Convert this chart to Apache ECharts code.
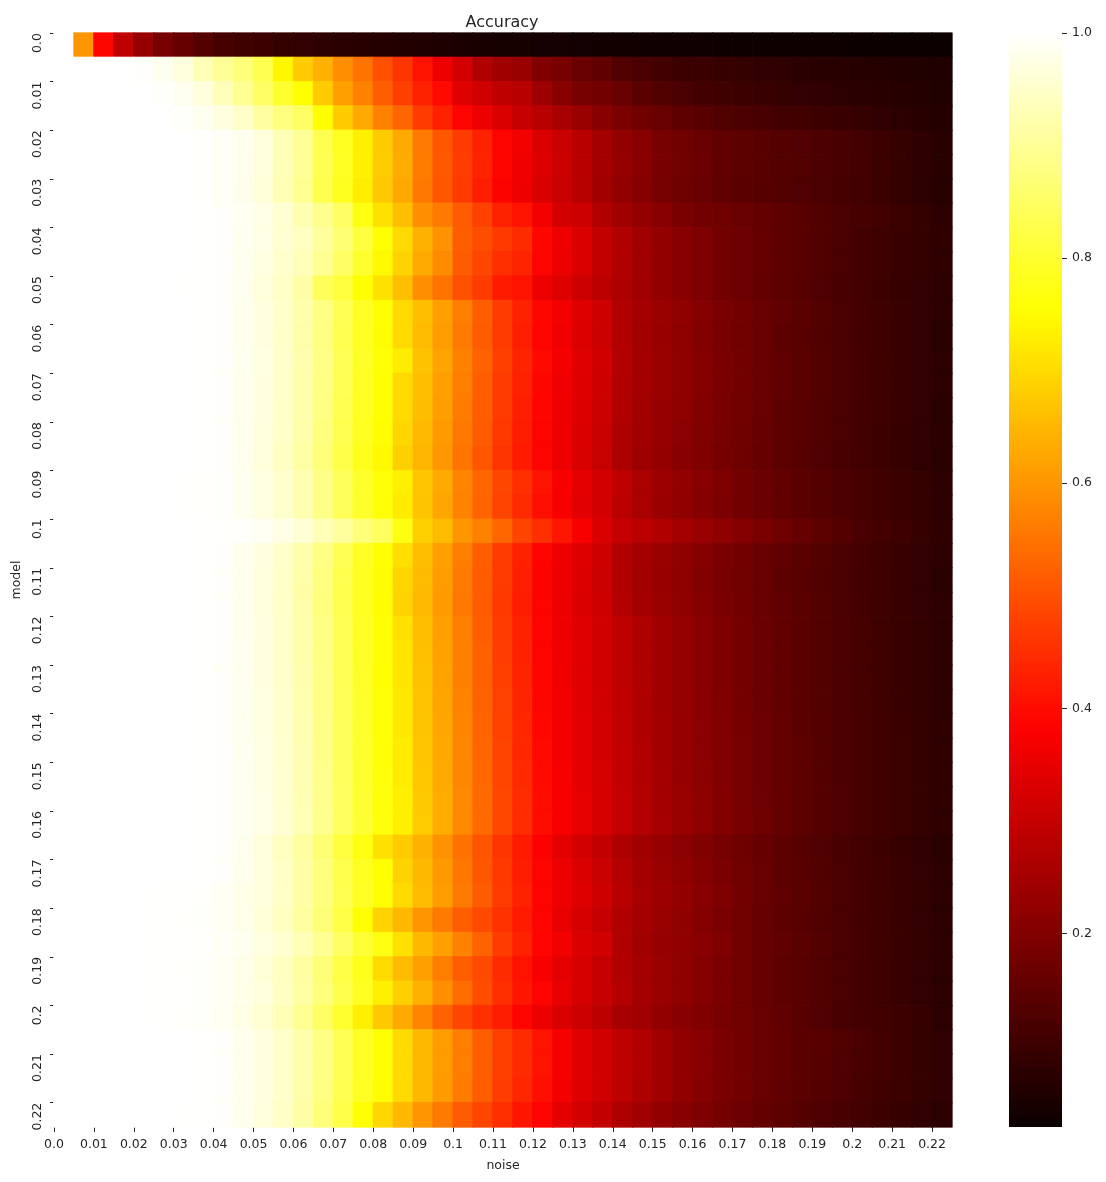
<!DOCTYPE html>
<html>
<head>
<meta charset="utf-8">
<title>Accuracy</title>
<script src="https://cdn.jsdelivr.net/npm/echarts@6/dist/echarts.min.js"></script>
<style>
html, body { margin: 0; padding: 0; background: #fff; }
#chart { width: 1106px; height: 1182px; }
</style>
</head>
<body>
<div id="chart"></div>
<script>
// cell steps on both axes, 0.005 apart
const noise = ['0.0','0.005','0.01','0.015','0.02','0.025','0.03','0.035','0.04','0.045','0.05','0.055','0.06','0.065','0.07','0.075','0.08','0.085','0.09','0.095','0.1','0.105','0.11','0.115','0.12','0.125','0.13','0.135','0.14','0.145','0.15','0.155','0.16','0.165','0.17','0.175','0.18','0.185','0.19','0.195','0.2','0.205','0.21','0.215','0.22'];
const model = ['0.0','0.005','0.01','0.015','0.02','0.025','0.03','0.035','0.04','0.045','0.05','0.055','0.06','0.065','0.07','0.075','0.08','0.085','0.09','0.095','0.1','0.105','0.11','0.115','0.12','0.125','0.13','0.135','0.14','0.145','0.15','0.155','0.16','0.165','0.17','0.175','0.18','0.185','0.19','0.195','0.2','0.205','0.21','0.215','0.22'];
// only every second step gets a tick
const tickLabels = ['0.0','0.01','0.02','0.03','0.04','0.05','0.06','0.07','0.08','0.09','0.1','0.11','0.12','0.13','0.14','0.15','0.16','0.17','0.18','0.19','0.2','0.21','0.22'];
const colorbarTicks = [0.2, 0.4, 0.6, 0.8, 1.0];

// accuracy, one line per model row
const accuracy = [
[1,.60,.39,.29,.23,.185,.16,.135,.115,.105,.10,.09,.085,.08,.075,.07,.065,.062,.058,.055,.052,.049,.046,.044,.042,.041,.04,.039,.038,.037,.036,.035,.035,.034,.034,.033,.033,.033,.032,.032,.031,.031,.03,.03,.03],
[1,1,1,1,.995,.985,.965,.93,.90,.87,.83,.74,.68,.64,.59,.55,.50,.46,.41,.355,.32,.27,.245,.235,.198,.185,.165,.152,.13,.12,.11,.10,.097,.092,.088,.083,.08,.075,.072,.07,.067,.064,.062,.06,.058],
[1,1,1,1,1,.995,.985,.965,.935,.895,.85,.80,.755,.68,.615,.57,.52,.475,.43,.395,.337,.315,.29,.28,.24,.21,.185,.18,.165,.145,.13,.12,.11,.105,.10,.095,.09,.085,.082,.078,.075,.072,.068,.064,.06],
[1,1,1,1,1,1,.995,.985,.97,.947,.91,.876,.85,.755,.68,.63,.57,.53,.47,.43,.385,.355,.33,.30,.28,.255,.235,.21,.19,.175,.165,.15,.14,.13,.125,.118,.11,.105,.10,.095,.09,.083,.078,.07,.065],
[1,1,1,1,1,1,1,.996,.992,.983,.968,.93,.90,.83,.785,.73,.68,.63,.56,.51,.47,.43,.385,.365,.33,.305,.28,.25,.225,.21,.185,.175,.165,.152,.146,.14,.134,.129,.125,.118,.11,.10,.09,.08,.07],
[1,1,1,1,1,1,1,.996,.992,.983,.966,.93,.898,.832,.787,.732,.677,.632,.563,.513,.472,.433,.388,.362,.333,.308,.282,.252,.228,.212,.188,.177,.166,.154,.147,.141,.135,.13,.124,.117,.109,.099,.089,.079,.07],
[1,1,1,1,1,1,1,.996,.992,.982,.964,.928,.895,.83,.783,.728,.673,.628,.558,.508,.468,.428,.383,.36,.328,.303,.278,.248,.224,.208,.186,.174,.164,.152,.145,.139,.133,.128,.122,.115,.108,.098,.088,.078,.069],
[1,1,1,1,1,1,1,.998,.994,.988,.975,.955,.925,.89,.85,.77,.71,.66,.59,.56,.515,.478,.43,.41,.365,.32,.31,.27,.245,.225,.21,.19,.18,.172,.165,.158,.15,.14,.13,.122,.115,.108,.098,.088,.078],
[1,1,1,1,1,1,1,.999,.995,.985,.975,.955,.94,.905,.865,.815,.755,.70,.64,.595,.52,.495,.465,.445,.39,.36,.33,.295,.27,.245,.225,.21,.195,.18,.17,.16,.15,.14,.13,.12,.11,.102,.095,.088,.08],
[1,1,1,1,1,1,1,.999,.995,.985,.972,.952,.932,.895,.85,.80,.745,.69,.63,.585,.515,.485,.45,.435,.385,.355,.33,.295,.27,.245,.225,.21,.195,.18,.17,.16,.15,.14,.13,.12,.11,.102,.095,.088,.08],
[1,1,1,1,1,1,.999,.998,.994,.985,.965,.945,.915,.84,.815,.755,.71,.66,.59,.55,.50,.47,.42,.41,.36,.335,.31,.285,.265,.245,.225,.21,.195,.18,.17,.158,.148,.138,.128,.118,.11,.10,.092,.085,.078],
[1,1,1,1,1,1,1,.998,.994,.984,.97,.95,.92,.88,.835,.79,.755,.70,.66,.615,.565,.52,.47,.43,.39,.365,.335,.31,.27,.25,.235,.22,.205,.19,.178,.165,.152,.142,.132,.122,.112,.103,.095,.086,.076],
[1,1,1,1,1,1,1,.998,.994,.984,.97,.948,.918,.878,.833,.788,.753,.70,.655,.61,.56,.517,.468,.428,.388,.362,.333,.308,.268,.248,.233,.218,.203,.188,.176,.163,.15,.14,.13,.12,.11,.102,.094,.085,.075],
[1,1,1,1,1,1,1,.998,.995,.986,.972,.95,.922,.882,.837,.792,.758,.727,.665,.62,.57,.525,.475,.435,.395,.367,.337,.312,.272,.25,.235,.22,.205,.19,.178,.165,.152,.142,.132,.122,.112,.104,.095,.086,.076],
[1,1,1,1,1,1,1,.998,.994,.984,.97,.95,.92,.88,.835,.79,.755,.70,.66,.615,.565,.52,.47,.43,.39,.362,.335,.31,.27,.25,.235,.22,.205,.19,.178,.165,.152,.142,.132,.122,.112,.103,.095,.086,.076],
[1,1,1,1,1,1,1,.998,.994,.984,.97,.948,.92,.878,.832,.788,.755,.70,.658,.612,.562,.518,.468,.428,.388,.36,.333,.308,.268,.248,.232,.218,.203,.188,.176,.163,.15,.14,.13,.12,.11,.102,.094,.085,.075],
[1,1,1,1,1,1,1,.998,.994,.983,.968,.946,.917,.875,.83,.785,.752,.695,.652,.608,.558,.515,.465,.425,.385,.358,.33,.305,.265,.245,.23,.215,.2,.186,.174,.162,.15,.14,.13,.12,.11,.101,.093,.084,.074],
[1,1,1,1,1,1,1,.998,.994,.983,.966,.943,.913,.87,.825,.78,.748,.685,.648,.603,.553,.51,.46,.42,.385,.355,.327,.302,.262,.242,.227,.212,.198,.184,.172,.16,.148,.138,.128,.118,.108,.1,.092,.083,.073],
[1,1,1,1,1,1,.999,.997,.995,.986,.972,.953,.925,.885,.84,.795,.76,.73,.67,.63,.575,.53,.485,.45,.41,.375,.345,.32,.29,.26,.24,.225,.21,.195,.18,.168,.155,.145,.135,.125,.115,.105,.097,.088,.078],
[1,1,1,1,1,1,.999,.997,.995,.986,.972,.953,.925,.885,.84,.795,.76,.725,.668,.625,.572,.528,.48,.445,.405,.372,.342,.318,.285,.258,.238,.223,.208,.193,.18,.168,.155,.145,.135,.125,.115,.105,.097,.088,.078],
[1,1,1,1,1,1,1,.999,.998,.996,.99,.975,.96,.93,.905,.87,.845,.77,.685,.655,.60,.57,.53,.482,.45,.415,.375,.33,.30,.285,.27,.25,.235,.22,.205,.19,.175,.16,.148,.135,.122,.112,.103,.092,.08],
[1,1,1,1,1,1,1,.998,.994,.984,.97,.95,.92,.88,.835,.79,.755,.705,.66,.615,.565,.52,.47,.43,.385,.36,.335,.31,.27,.25,.235,.22,.205,.19,.178,.165,.152,.142,.132,.122,.112,.103,.095,.086,.076],
[1,1,1,1,1,1,1,.998,.994,.984,.968,.947,.917,.876,.83,.785,.753,.695,.655,.61,.56,.517,.468,.428,.383,.358,.333,.308,.268,.248,.233,.218,.203,.188,.176,.163,.15,.14,.13,.12,.11,.102,.094,.085,.075],
[1,1,1,1,1,1,1,.998,.994,.984,.968,.946,.916,.875,.83,.785,.752,.69,.652,.608,.558,.515,.465,.425,.385,.357,.33,.31,.272,.25,.235,.22,.205,.19,.178,.165,.152,.142,.132,.122,.112,.103,.095,.086,.076],
[1,1,1,1,1,1,1,.998,.994,.984,.97,.95,.92,.88,.835,.79,.755,.71,.66,.615,.565,.52,.47,.43,.385,.36,.337,.315,.29,.265,.245,.228,.212,.197,.182,.168,.155,.144,.133,.123,.113,.104,.096,.087,.078],
[1,1,1,1,1,1,1,.998,.994,.985,.97,.95,.921,.881,.836,.792,.756,.715,.662,.617,.567,.522,.472,.432,.387,.362,.338,.316,.29,.265,.245,.228,.212,.197,.182,.168,.155,.144,.133,.123,.113,.104,.096,.087,.078],
[1,1,1,1,1,1,1,.998,.994,.985,.97,.951,.922,.882,.837,.793,.757,.716,.664,.619,.569,.524,.474,.434,.388,.363,.338,.316,.291,.265,.245,.228,.212,.197,.182,.168,.155,.144,.133,.123,.113,.104,.096,.087,.078],
[1,1,1,1,1,1,1,.998,.994,.985,.971,.952,.923,.883,.838,.795,.758,.72,.666,.622,.572,.526,.476,.436,.39,.365,.34,.317,.292,.266,.246,.229,.213,.198,.183,.168,.155,.144,.133,.123,.113,.104,.096,.087,.078],
[1,1,1,1,1,1,1,.998,.994,.986,.972,.953,.924,.885,.84,.797,.759,.72,.668,.624,.574,.528,.478,.438,.392,.366,.341,.318,.293,.267,.247,.23,.214,.199,.184,.169,.156,.145,.134,.124,.114,.105,.097,.088,.079],
[1,1,1,1,1,1,1,.998,.995,.986,.973,.954,.926,.887,.842,.799,.76,.725,.67,.627,.577,.531,.481,.441,.395,.368,.343,.32,.295,.268,.248,.231,.215,.2,.185,.17,.157,.146,.135,.125,.115,.106,.098,.089,.08],
[1,1,1,1,1,1,1,.998,.995,.987,.974,.955,.927,.888,.844,.8,.762,.725,.672,.629,.579,.533,.483,.443,.397,.37,.345,.322,.296,.27,.25,.232,.216,.2,.185,.17,.157,.146,.135,.125,.115,.106,.098,.089,.08],
[1,1,1,1,1,1,1,.998,.995,.987,.975,.956,.928,.89,.845,.802,.763,.73,.675,.632,.582,.536,.486,.446,.4,.372,.347,.324,.298,.272,.252,.234,.217,.201,.186,.171,.158,.147,.136,.126,.116,.107,.098,.089,.08],
[1,1,1,1,1,1,1,.998,.995,.987,.975,.957,.93,.891,.846,.803,.764,.73,.676,.633,.583,.537,.487,.447,.402,.374,.348,.325,.299,.273,.253,.235,.218,.202,.187,.172,.158,.147,.136,.126,.116,.107,.098,.089,.08],
[1,1,1,1,1,1,1,.998,.994,.983,.965,.94,.91,.865,.815,.77,.71,.68,.64,.595,.548,.505,.46,.42,.38,.345,.32,.295,.265,.245,.23,.215,.2,.186,.172,.16,.148,.138,.128,.118,.108,.1,.092,.083,.074],
[1,1,1,1,1,1,1,.998,.994,.984,.968,.945,.915,.875,.828,.785,.755,.69,.65,.605,.555,.51,.465,.425,.385,.355,.33,.305,.275,.252,.235,.22,.205,.19,.175,.163,.15,.14,.13,.12,.11,.102,.094,.085,.076],
[1,1,1,1,1,.999,.998,.996,.99,.98,.965,.945,.915,.875,.83,.79,.755,.70,.655,.61,.56,.515,.468,.43,.385,.36,.335,.31,.28,.255,.24,.225,.21,.195,.18,.165,.152,.142,.132,.122,.112,.104,.096,.087,.078],
[1,1,1,1,1,.999,.997,.995,.99,.98,.962,.94,.91,.868,.82,.755,.69,.65,.60,.56,.52,.49,.455,.42,.385,.35,.325,.30,.27,.25,.235,.22,.205,.19,.175,.162,.15,.14,.13,.12,.11,.102,.094,.085,.076],
[1,1,1,1,1,.999,.998,.997,.992,.985,.972,.955,.93,.895,.85,.805,.77,.71,.65,.615,.57,.525,.47,.43,.385,.365,.33,.315,.27,.245,.232,.222,.21,.198,.175,.162,.152,.142,.132,.122,.112,.104,.096,.087,.078],
[1,1,1,1,1,.999,.997,.995,.99,.98,.962,.94,.91,.868,.82,.78,.70,.655,.615,.565,.52,.49,.445,.41,.375,.345,.325,.30,.27,.25,.235,.22,.205,.19,.175,.162,.15,.14,.13,.12,.11,.102,.094,.085,.076],
[1,1,1,1,1,.999,.998,.995,.99,.98,.965,.943,.912,.872,.828,.785,.73,.685,.64,.59,.54,.495,.45,.415,.385,.35,.325,.30,.275,.25,.235,.22,.205,.19,.175,.162,.15,.14,.13,.12,.11,.102,.094,.085,.076],
[1,1,1,1,1,.999,.997,.994,.988,.975,.955,.93,.895,.85,.80,.73,.675,.63,.575,.525,.485,.45,.425,.385,.355,.33,.31,.285,.255,.245,.225,.21,.198,.185,.175,.165,.152,.14,.129,.118,.11,.105,.10,.092,.078],
[1,1,1,1,1,1,1,.998,.994,.984,.97,.95,.92,.88,.835,.79,.755,.70,.65,.61,.565,.52,.475,.445,.41,.37,.337,.315,.29,.268,.245,.222,.21,.19,.18,.165,.155,.145,.14,.13,.12,.11,.10,.09,.082],
[1,1,1,1,1,1,1,.998,.994,.984,.97,.95,.92,.88,.835,.79,.755,.70,.65,.61,.565,.52,.475,.445,.41,.37,.337,.315,.29,.268,.245,.222,.21,.19,.18,.165,.155,.145,.138,.128,.118,.108,.10,.09,.082],
[1,1,1,1,1,1,1,.998,.994,.984,.97,.95,.918,.878,.833,.79,.753,.70,.65,.608,.562,.518,.472,.44,.405,.367,.335,.312,.288,.265,.245,.222,.208,.19,.178,.165,.153,.143,.136,.126,.116,.107,.099,.09,.082],
[1,1,1,1,1,1,.999,.998,.994,.984,.968,.945,.915,.87,.825,.755,.695,.65,.60,.56,.515,.485,.45,.415,.385,.345,.32,.295,.265,.245,.225,.21,.195,.182,.17,.158,.146,.136,.126,.117,.108,.10,.092,.084,.076]
];

// matplotlib "hot" colour ramp, only used for styling
const vMin = 0.028;
const vMax = 1;
function hotColor(t) {
    const r = Math.min(1, 0.0416 + t * 0.9584 / 0.365);
    const g = Math.max(0, Math.min(1, (t - 0.365) / 0.381));
    const b = Math.max(0, (t - 0.746) / 0.254);
    return 'rgb(' + Math.round(r * 255) + ',' + Math.round(g * 255) + ',' + Math.round(b * 255) + ')';
}
const hotStops = [];
for (let i = 0; i <= 64; i++) hotStops.push(hotColor(i / 64));

// same colour border on each cell hides the seams between fractional cells
const data = [];
accuracy.forEach((row, y) => row.forEach((v, x) => data.push({
    value: [x, y, v],
    itemStyle: { borderWidth: 0.7, borderColor: hotColor((v - vMin) / (vMax - vMin)) }
})));

// colorbar drawn as the background of its own grid, top of the bar is t = 1
const barGradient = new echarts.graphic.LinearGradient(0, 1, 0, 0,
    hotStops.map((c, i) => ({ offset: i / 64, color: c })));

const textColor = '#262626';
const tickPositions = tickLabels.map((_, i) => i * 2);

const chart = echarts.init(document.getElementById('chart'));
chart.setOption({
    animation: false,
    backgroundColor: '#fff',
    textStyle: { fontFamily: 'DejaVu Sans' },
    title: {
        text: 'Accuracy',
        left: 497,
        top: 10,
        textAlign: 'center',
        textStyle: { fontFamily: 'DejaVu Sans', fontSize: 16, fontWeight: 'normal', color: textColor }
    },
    grid: [
        { left: 54, top: 33, width: 898, height: 1094 },
        { left: 1009, top: 33, width: 53, height: 1094, show: true, backgroundColor: barGradient, borderWidth: 0 }
    ],
    xAxis: [
        { type: 'category', data: noise, gridIndex: 0, show: false },
        {
            type: 'value', gridIndex: 0, min: 0, max: 45, position: 'bottom',
            name: 'noise', nameLocation: 'middle', nameGap: 32,
            nameTextStyle: { fontSize: 12.5, color: textColor },
            axisLine: { show: false, onZero: false },
            splitLine: { show: false },
            axisTick: { show: true, length: 5, customValues: tickPositions, lineStyle: { color: textColor } },
            axisLabel: {
                show: true, margin: 11, fontSize: 12.5, color: textColor,
                customValues: tickPositions,
                formatter: v => tickLabels[v / 2]
            }
        },
        { type: 'value', gridIndex: 1, min: 0, max: 1, show: false, axisLine: { onZero: false } }
    ],
    yAxis: [
        { type: 'category', data: model, gridIndex: 0, inverse: true, show: false },
        {
            type: 'value', gridIndex: 0, min: 0, max: 45, inverse: true, position: 'left',
            name: 'model', nameLocation: 'middle', nameGap: 29,
            nameTextStyle: { fontSize: 12.5, color: textColor },
            axisLine: { show: false, onZero: false },
            splitLine: { show: false },
            axisTick: { show: true, length: 4, customValues: tickPositions, lineStyle: { color: textColor } },
            axisLabel: {
                show: true, margin: 16, fontSize: 12.5, color: textColor, rotate: 90,
                align: 'right', verticalAlign: 'middle',
                customValues: tickPositions,
                formatter: v => tickLabels[v / 2]
            }
        },
        {
            type: 'value', gridIndex: 1, min: vMin, max: vMax, position: 'right',
            axisLine: { show: false, onZero: false },
            splitLine: { show: false },
            axisTick: { show: true, length: 5, customValues: colorbarTicks, lineStyle: { color: textColor } },
            axisLabel: {
                show: true, margin: 10, fontSize: 12.5, color: textColor,
                customValues: colorbarTicks,
                formatter: v => v.toFixed(1)
            }
        }
    ],
    visualMap: {
        type: 'continuous',
        show: false,
        seriesIndex: 0,
        dimension: 2,
        min: vMin,
        max: vMax,
        inRange: { color: hotStops }
    },
    series: [{
        type: 'heatmap',
        xAxisIndex: 0,
        yAxisIndex: 0,
        data: data,
        progressive: 0,
        emphasis: { disabled: true }
    }]
});
</script>
</body>
</html>
